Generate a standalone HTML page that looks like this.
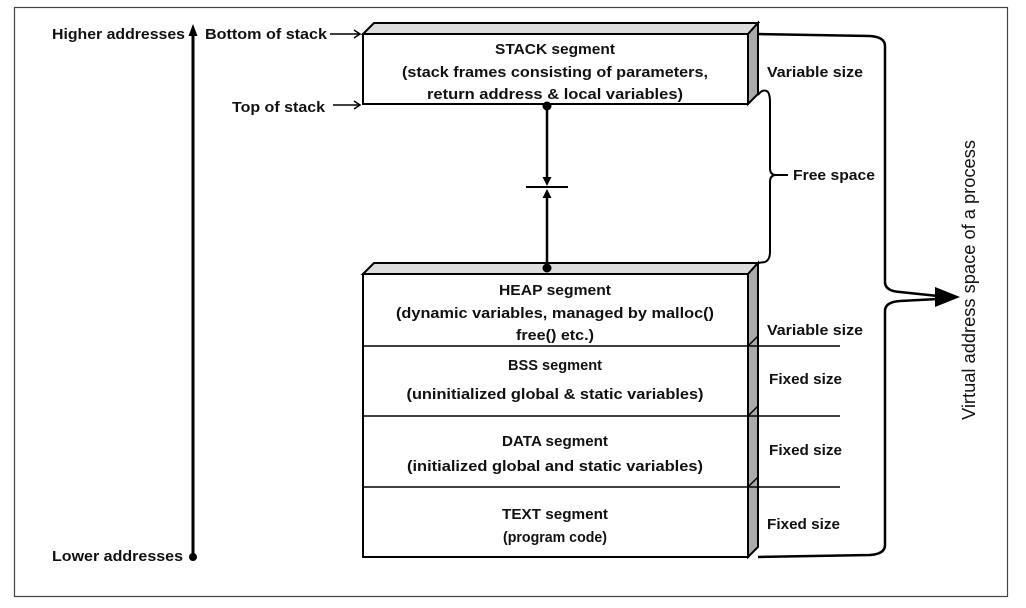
<!DOCTYPE html>
<html><head><meta charset="utf-8"><style>
body{margin:0;background:#fff}
svg{display:block}
text{font-family:"Liberation Sans",sans-serif;font-weight:bold;font-size:14.5px;fill:#111}
</style></head><body>
<svg width="1026" height="608" viewBox="0 0 1026 608">
<rect x="14.5" y="7.5" width="993" height="589" fill="none" stroke="#444" stroke-width="1.2"/>
<line x1="193" y1="36" x2="193" y2="557" stroke="#000" stroke-width="3"/>
<polygon points="193,24 188.5,36 197.5,36" fill="#000"/>
<circle cx="193" cy="557" r="4" fill="#000"/>
<text x="185" y="39" text-anchor="end" textLength="133" lengthAdjust="spacingAndGlyphs">Higher addresses</text>
<text x="183" y="561" text-anchor="end" textLength="131" lengthAdjust="spacingAndGlyphs">Lower addresses</text>
<text x="205" y="39" textLength="122" lengthAdjust="spacingAndGlyphs">Bottom of stack</text>
<text x="325" y="112" text-anchor="end" textLength="93" lengthAdjust="spacingAndGlyphs">Top of stack</text>
<g stroke="#000" stroke-width="1.5" fill="none">
<line x1="330" y1="34" x2="360" y2="34"/><polyline points="354,30 360,34 354,38"/>
<line x1="333" y1="105" x2="360" y2="105"/><polyline points="354,101 360,105 354,109"/>
</g>
<polygon points="363,34 374,23 758,23 748,34" fill="#ddd" stroke="#000" stroke-width="2"/>
<polygon points="748,34 758,23 758,94 748,104" fill="#aaa" stroke="#000" stroke-width="2"/>
<rect x="363" y="34" width="385" height="70" fill="#fff" stroke="#000" stroke-width="2"/>
<text x="555" y="54" text-anchor="middle" textLength="120" lengthAdjust="spacingAndGlyphs">STACK segment</text>
<text x="555" y="77" text-anchor="middle" textLength="306" lengthAdjust="spacingAndGlyphs">(stack frames consisting of parameters,</text>
<text x="555" y="99" text-anchor="middle" textLength="256" lengthAdjust="spacingAndGlyphs">return address &amp; local variables)</text>
<polygon points="363,274 374,263 758,263 748,274" fill="#ddd" stroke="#000" stroke-width="2"/>
<polygon points="748,274 758,263 758,547 748,557" fill="#aaa" stroke="#000" stroke-width="2"/>
<rect x="363" y="274" width="385" height="283" fill="#fff" stroke="#000" stroke-width="2"/>
<g stroke="#000" stroke-width="1.5">
<line x1="363" y1="346" x2="840" y2="346"/>
<line x1="363" y1="416" x2="840" y2="416"/>
<line x1="363" y1="487" x2="840" y2="487"/>
<line x1="748" y1="346" x2="758" y2="336"/>
<line x1="748" y1="416" x2="758" y2="406"/>
<line x1="748" y1="487" x2="758" y2="477"/>
</g>
<text x="555" y="295" text-anchor="middle" textLength="112" lengthAdjust="spacingAndGlyphs">HEAP segment</text>
<text x="555" y="318" text-anchor="middle" textLength="318" lengthAdjust="spacingAndGlyphs">(dynamic variables, managed by malloc()</text>
<text x="555" y="340" text-anchor="middle" textLength="78" lengthAdjust="spacingAndGlyphs">free() etc.)</text>
<text x="555" y="370" text-anchor="middle" textLength="94" lengthAdjust="spacingAndGlyphs">BSS segment</text>
<text x="555" y="399" text-anchor="middle" textLength="297" lengthAdjust="spacingAndGlyphs">(uninitialized global &amp; static variables)</text>
<text x="555" y="446" text-anchor="middle" textLength="106" lengthAdjust="spacingAndGlyphs">DATA segment</text>
<text x="555" y="471" text-anchor="middle" textLength="296" lengthAdjust="spacingAndGlyphs">(initialized global and static variables)</text>
<text x="555" y="519" text-anchor="middle" textLength="106" lengthAdjust="spacingAndGlyphs">TEXT segment</text>
<text x="555" y="542" text-anchor="middle" textLength="104" lengthAdjust="spacingAndGlyphs">(program code)</text>
<g stroke="#000" stroke-width="2.5">
<line x1="547" y1="105" x2="547" y2="178"/>
<line x1="547" y1="198" x2="547" y2="268"/>
<line x1="526" y1="187" x2="568" y2="187" stroke-width="2"/>
</g>
<circle cx="547" cy="106" r="4.5" fill="#000"/>
<circle cx="547" cy="268" r="4.5" fill="#000"/>
<polygon points="542.5,177 551.5,177 547,186" fill="#000"/>
<polygon points="542.5,198 551.5,198 547,189" fill="#000"/>
<text x="767" y="77" textLength="96" lengthAdjust="spacingAndGlyphs">Variable size</text>
<text x="767" y="335" textLength="96" lengthAdjust="spacingAndGlyphs">Variable size</text>
<text x="769" y="384" textLength="73" lengthAdjust="spacingAndGlyphs">Fixed size</text>
<text x="769" y="455" textLength="73" lengthAdjust="spacingAndGlyphs">Fixed size</text>
<text x="767" y="529" textLength="73" lengthAdjust="spacingAndGlyphs">Fixed size</text>
<path d="M758,95 Q763,88 768,92 Q770,95 770,102 L770,168 Q770,175 776,175 L788,175 M776,175 Q770,175 770,182 L770,252 Q770,260 765,262 L758,263" fill="none" stroke="#000" stroke-width="2"/>
<text x="793" y="180" textLength="82" lengthAdjust="spacingAndGlyphs">Free space</text>
<path d="M758,34 L870,36 Q885,37 885,46 L885,282 Q885,291 900,292 L938,296 M938,299 L900,301 Q885,302 885,311 L885,545 Q885,554 870,555 L758,557" fill="none" stroke="#000" stroke-width="2.5"/>
<polygon points="935,287 960,297 935,307" fill="#000"/>
<text transform="translate(975,280) rotate(-90)" text-anchor="middle" textLength="280" lengthAdjust="spacingAndGlyphs" style="font-weight:normal;font-size:18px">Virtual address space of a process</text>
</svg>
</body></html>
